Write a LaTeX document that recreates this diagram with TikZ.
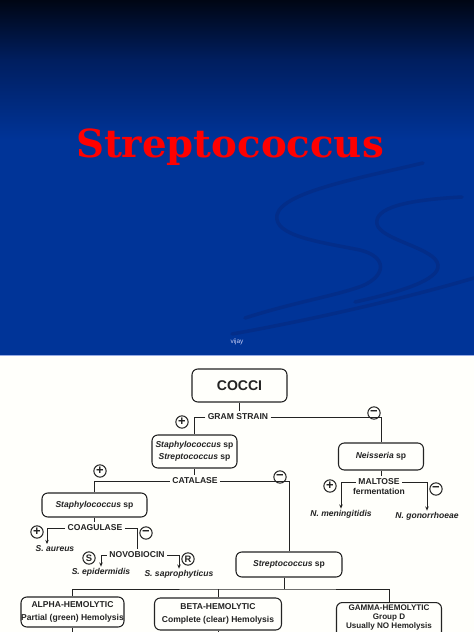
\documentclass[tikz,border=0pt]{standalone}
\usepackage{fontspec}
\newfontfamily\titlefont{DejaVu Serif}
\newfontfamily\chartfont{Liberation Sans}
\usetikzlibrary{arrows.meta}
\definecolor{slideblue}{RGB}{0,52,152}
\definecolor{slidemid}{RGB}{0,30,95}
\definecolor{slidetop}{RGB}{0,6,20}
\definecolor{swoosh}{RGB}{3,45,137}
\definecolor{ink}{RGB}{35,35,35}
\definecolor{rule}{RGB}{150,170,228}
\definecolor{byline}{RGB}{200,205,245}
\definecolor{paper}{RGB}{255,255,251}
\newcommand{\minussign}{{\char"2212}}

\begin{document}
\begin{tikzpicture}[x=0.03cm,y=-0.03cm,>={Stealth[length=3.5pt,width=3pt]},
        box/.style={draw=ink,line width=0.9pt,rounded corners=5pt,inner sep=0pt,align=center,text=ink,
                    font=\chartfont\bfseries\fontsize{7.3}{9.5}\selectfont},
        lbl/.style={inner sep=2pt,text=ink,font=\chartfont\bfseries\fontsize{7.3}{9}\selectfont},
        spec/.style={inner sep=1pt,text=ink,font=\chartfont\bfseries\itshape\fontsize{7.3}{9}\selectfont},
        sign/.style={draw=ink,circle,line width=0.9pt,inner sep=0pt,minimum size=10.5pt,text=ink,
                    font=\chartfont\bfseries\fontsize{11}{11}\selectfont},
        conn/.style={draw=ink,line width=0.7pt}]
                \useasboundingbox (0,0) rectangle (474,632);

                % slide
                \shade[top color=slidetop,bottom color=slidemid] (0,0) rectangle (474,60);
                \shade[top color=slidemid,bottom color=slideblue] (0,60) rectangle (474,140);
                \fill[slideblue] (0,140) rectangle (474,355);

                \draw[swoosh,line width=3pt,line cap=round] (423,163) .. controls (360,178) and (282,192) .. (277,215)
                     .. controls (273,236) and (320,242) .. (360,250) .. controls (388,257) and (386,276) .. (362,286)
                     .. controls (335,296) and (295,302) .. (245,318);
                \draw[swoosh,line width=3pt,line cap=round] (462,197) .. controls (405,200) and (374,208) .. (377,224)
                     .. controls (380,240) and (436,248) .. (438,265) .. controls (440,280) and (400,292) .. (355,302);
                \draw[swoosh,line width=3pt,line cap=round] (474,278) .. controls (400,300) and (300,322) .. (232,334);

                \node[text=red,anchor=base,font=\titlefont\bfseries\fontsize{33}{33}\selectfont] (title) at (230,157) {Streptococcus};
                \node[text=byline,font=\chartfont\fontsize{5.5}{6}\selectfont] (author) at (237,342) {vijay};

                % page with chart
                \fill[paper] (0,356) rectangle (474,632);
                \draw[rule,line width=1.5pt] (0,355.5)--(474,355.5);

                \begin{scope}
                \clip (0,357) rectangle (474,632);

                \node[box,minimum width=2.85cm,minimum height=0.99cm,font=\chartfont\bfseries\fontsize{12}{12}\selectfont] (cocci) at (239.5,385.5) {COCCI};
                \node[lbl] (gram) at (238,417) {GRAM STRAIN};
                \node[box,minimum width=2.55cm,minimum height=0.99cm] (staphstrep) at (194.5,451.5) {\textit{Staphylococcus} sp\\[1pt]\textit{Streptococcus} sp};
                \node[box,minimum width=2.55cm,minimum height=0.81cm] (neis) at (381,456.5) {\textit{Neisseria} sp};

                \node[lbl] (cat) at (195,481) {CATALASE};
                \node[box,minimum width=3.15cm,minimum height=0.72cm] (staph) at (94.5,505) {\textit{Staphylococcus} sp};
                \node[box,minimum width=3.18cm,minimum height=0.75cm] (strep) at (289,564.5) {\textit{Streptococcus} sp};

                \node[lbl] (malt) at (379,482) {MALTOSE};
                \node[lbl] (ferm) at (379,491.5) {fermentation};
                \node[spec] (mening) at (341,514) {N. meningitidis};
                \node[spec] (gono) at (427,516) {N. gonorrhoeae};

                \node[lbl] (coag) at (95,528) {COAGULASE};
                \node[spec] (aureus) at (55,549) {S. aureus};
                \node[lbl] (novo) at (137,555) {NOVOBIOCIN};
                \node[spec] (epi) at (101,572) {S. epidermidis};
                \node[spec] (sapro) at (179,574) {S. saprophyticus};

                \node[box,minimum width=3.09cm,minimum height=0.9cm] (alpha) at (72.5,612) {ALPHA-HEMOLYTIC\\[1pt]Partial (green) Hemolysis};
                \node[box,minimum width=3.81cm,minimum height=0.96cm] (beta) at (218,614) {BETA-HEMOLYTIC\\[1pt]Complete (clear) Hemolysis};
                \node[box,minimum width=3.15cm,minimum height=1.2cm,anchor=north] (gamma) at (389,602) {};
                \node[inner sep=1pt,text=ink,align=center,font=\chartfont\bfseries\fontsize{6.9}{7.8}\selectfont,anchor=north] (gammatext) at (389,603) {GAMMA-HEMOLYTIC\\Group D\\Usually NO Hemolysis};

                % signs
                \node[sign] (gpos) at (182,422) {+};
                \node[sign] (gneg) at (374,413) {\minussign};
                \node[sign] (cpos) at (100,471) {+};
                \node[sign] (cneg) at (280,477) {\minussign};
                \node[sign] (mpos) at (330,486) {+};
                \node[sign] (mneg) at (436,489) {\minussign};
                \node[sign] (kpos) at (37,532) {+};
                \node[sign] (kneg) at (146,533) {\minussign};
                \node[sign,font=\chartfont\bfseries\fontsize{8}{8}\selectfont] (nsen) at (89,558) {S};
                \node[sign,font=\chartfont\bfseries\fontsize{8}{8}\selectfont] (nres) at (188,559) {R};

                % connectors
                \coordinate (aurtip) at (47,544);
                \coordinate (hub) at (284,589);

                \draw[conn] (cocci.south) -- (cocci.south |- gram.north);
                \draw[conn] (gram.west) -| (staphstrep.north);
                \draw[conn] (gram.east) -| (neis.north);
                \draw[conn] (staphstrep.south) -- (staphstrep.south |- cat.north);
                \draw[conn] (cat.west) -| (staph.north);
                \draw[conn] (cat.east) -| (strep.north);
                \draw[conn] (neis.south) -- (neis.south |- malt.north);
                \draw[conn,->] (malt.west) -| (mening.north);
                \draw[conn,->] (malt.east) -| (gono.north);
                \draw[conn] (staph.south) -- (staph.south |- coag.north);
                \draw[conn,->] (coag.west) -| (aurtip);
                \draw[conn] (coag.east) -| (novo.north);
                \draw[conn,->] (novo.west) -| (epi.north);
                \draw[conn,->] (novo.east) -| (sapro.north);
                \draw[conn] (hub |- strep.south) -- (hub);
                \draw[conn] (alpha.north) |- (hub) -| (gamma.north);
                \draw[conn] (beta.north) -- (beta.north |- hub);
                \draw[conn] (alpha.south) -- ++(0,10);
                \draw[conn] (beta.south) -- ++(0,10);
                \end{scope}
\end{tikzpicture}
\end{document}
